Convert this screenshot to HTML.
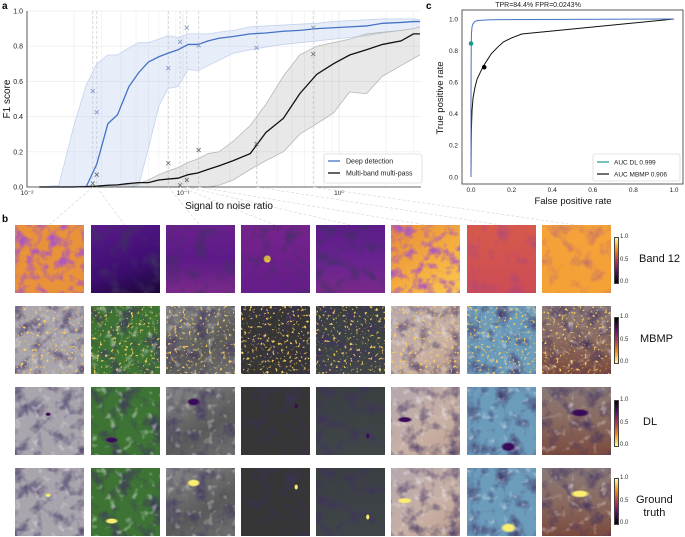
<!DOCTYPE html>
<html><head><meta charset="utf-8"><style>
body{margin:0;width:685px;height:537px;background:#fff;overflow:hidden;position:relative;font-family:"Liberation Sans","DejaVu Sans",sans-serif}
.tile{position:absolute;width:69px;height:68px;overflow:hidden}
.tile svg{position:absolute;left:0;top:0}
.lbl{position:absolute;font-size:11px;color:#111}
.cb{position:absolute;width:3px;border:0.5px solid #444}
.cbt{position:absolute;font-size:6px;color:#333}
</style></head><body>
<svg width="0" height="0" style="position:absolute"><defs id="defs"></defs></svg>
<svg id="chart" width="685" height="537" style="position:absolute;left:0;top:0"></svg>
<div id="tiles"></div>
<script>
// ---- Panel a data ----
const snrGrid=[0.012,0.016,0.02,0.024,0.028,0.033,0.038,0.045,0.052,0.06,0.07,0.08,0.093,0.108,0.125,0.145,0.17,0.21,0.27,0.34,0.44,0.56,0.72,0.92,1.17,1.5,1.9,2.5,3.0,3.3];
const dlMean=[0,0,0,0.003,0.13,0.36,0.41,0.57,0.65,0.71,0.74,0.76,0.78,0.81,0.81,0.83,0.845,0.855,0.87,0.875,0.885,0.89,0.9,0.905,0.91,0.915,0.93,0.935,0.94,0.94];
const dlUpper=[0,0.01,0.35,0.58,0.7,0.75,0.75,0.79,0.82,0.82,0.84,0.86,0.85,0.87,0.87,0.87,0.88,0.89,0.91,0.915,0.92,0.925,0.93,0.94,0.945,0.95,0.955,0.955,0.955,0.95];
const dlLower=[0,0,0,0,0,0,0,0,0.01,0.22,0.46,0.56,0.57,0.67,0.66,0.69,0.72,0.76,0.78,0.795,0.81,0.82,0.83,0.84,0.85,0.86,0.875,0.89,0.9,0.91];
const mbMean=[0,0,0,0.002,0.005,0.01,0.012,0.02,0.025,0.025,0.04,0.045,0.05,0.07,0.08,0.1,0.12,0.15,0.19,0.31,0.39,0.53,0.64,0.7,0.75,0.78,0.81,0.83,0.87,0.87];
const mbUpper=[0.002,0.003,0.004,0.005,0.005,0.01,0.01,0.015,0.02,0.04,0.07,0.09,0.11,0.14,0.16,0.19,0.2,0.26,0.35,0.47,0.63,0.75,0.8,0.82,0.84,0.87,0.88,0.89,0.9,0.91];
const mbLower=[0,0,0,0,0,0,0,0,0,0,0,0,0,0,0,0,0.01,0.04,0.1,0.15,0.2,0.3,0.36,0.42,0.54,0.53,0.63,0.69,0.73,0.75];
const markSnr=[0.0264,0.028,0.0805,0.0957,0.1057,0.126,0.296,0.684];
const markDL=[0.545,0.425,0.675,0.825,0.905,0.805,0.79,0.905];
const markMB=[0.02,0.07,0.135,0.01,0.04,0.21,0.245,0.755];
const yTicksA=[0,0.2,0.4,0.6,0.8,1.0];
const xTicksA=[0.01,0.1,1];
const xTickLabelsA=["10\u207B\u00B2","10\u207B\u00B9","10\u2070"];
// ---- Panel c data ----
const dlFpr=[0,0,0.001,0.002,0.005,0.01,0.02,0.03,0.06,0.1,0.3,1];
const dlTpr=[0,0.5,0.8,0.9,0.95,0.97,0.985,0.99,0.993,0.995,0.997,1];
const mbFpr=[0,0.001,0.002,0.005,0.01,0.02,0.03,0.045,0.06,0.08,0.1,0.13,0.16,0.2,0.25,1];
const mbTpr=[0,0.2,0.3,0.42,0.5,0.57,0.62,0.66,0.7,0.74,0.78,0.82,0.855,0.88,0.905,1];
const opDL=[0.0002,0.845];
const opMB=[0.065,0.695];
const ticksC=[0,0.2,0.4,0.6,0.8,1.0];

const NS="http://www.w3.org/2000/svg";
const svg=document.getElementById('chart');
function mk(t,a,p){const e=document.createElementNS(NS,t);for(const k in a)e.setAttribute(k,a[k]);(p||svg).appendChild(e);return e;}
const ax=v=>27+156*(Math.log10(v)+2);
const ay=v=>187-176*v;
const cx=v=>471+203*v;
const cy=v=>177-158*v;
const ga=mk('g',{});


for(let d=-2;d<=0;d++)for(let m=1;m<10;m++){const v=m*Math.pow(10,d);const x=ax(v);if(x<27||x>421)continue;
 const l=mk('line',{x1:x,x2:x,y1:11,y2:187,stroke:m==1?'#e3e3e3':'#efefef','stroke-width':0.7},ga);
 }
yTicksA.forEach(v=>{const l=mk('line',{x1:27,x2:421,y1:ay(v),y2:ay(v),stroke:'#ebebeb','stroke-width':0.7},ga);
 
 const t=mk('text',{x:23,y:ay(v)+2.5,'font-size':7,'text-anchor':'end',fill:'#222'},ga);t.textContent=v.toFixed(1);
 });
xTicksA.forEach((v,i)=>{const t=mk('text',{x:ax(v),y:195,'font-size':6.5,'text-anchor':'middle',fill:'#222'},ga);t.textContent=xTickLabelsA[i];
 });
const tileX=i=>15.3+75.2*i+34;
markSnr.forEach((s,i)=>{const x=ax(s);
 const l=mk('line',{x1:x,x2:x,y1:11,y2:187,stroke:'#cfcfcf','stroke-width':0.8,'stroke-dasharray':'3,2'},ga);
 
 const c=mk('line',{x1:x,x2:tileX(i),y1:187,y2:225,stroke:'#d8d8d8','stroke-width':0.7,'stroke-dasharray':'3,2'},svg);
 });
function band(up,lo,fill,stroke,name){let d='M'+snrGrid.map((s,i)=>ax(s)+','+ay(up[i])).join('L');
 for(let i=snrGrid.length-1;i>=0;i--)d+='L'+ax(snrGrid[i])+','+ay(lo[i]);d+='Z';
 const p=mk('path',{d:d,fill:fill,stroke:'none'},ga);
 const l1=mk('path',{d:'M'+snrGrid.map((s,i)=>ax(s)+','+ay(up[i])).join('L'),fill:'none',stroke:stroke,'stroke-width':0.8},ga);
 
 const l2=mk('path',{d:'M'+snrGrid.map((s,i)=>ax(s)+','+ay(lo[i])).join('L'),fill:'none',stroke:stroke,'stroke-width':0.8},ga);
 }
band(dlUpper,dlLower,'rgba(180,200,235,0.3)','#c3d2ec','dl-band');
band(mbUpper,mbLower,'rgba(150,150,150,0.22)','#b8b8b8','mbmp-band');
function line(ys,col,name){const p=mk('path',{d:'M'+snrGrid.map((s,i)=>ax(s)+','+ay(ys[i])).join('L'),fill:'none',stroke:col,'stroke-width':1.3},ga);
 }
line(dlMean,'#4472c4','dl-mean-line');line(mbMean,'#111','mbmp-mean-line');
function cross(x,y,col,name){const g=mk('path',{d:`M${x-2},${y-2}L${x+2},${y+2}M${x-2},${y+2}L${x+2},${y-2}`,stroke:col,'stroke-width':0.8},ga);
 }
markSnr.forEach((s,i)=>{cross(ax(s),ay(markDL[i]),'#7f95c8','dl-sample-marker');cross(ax(s),ay(markMB[i]),'#666','mbmp-sample-marker');});
mk('path',{d:'M27,11V187H421',fill:'none',stroke:'#333','stroke-width':0.8},ga);
const lg=mk('g',{},ga);
mk('rect',{x:324,y:154,width:98,height:29,fill:'#fff',stroke:'#ccc','stroke-width':0.6,rx:2},lg);
mk('line',{x1:328,x2:340,y1:161,y2:161,stroke:'#4472c4','stroke-width':1.3},lg);
mk('line',{x1:328,x2:340,y1:173,y2:173,stroke:'#111','stroke-width':1.3},lg);
let t=mk('text',{x:346,y:163.5,'font-size':7,fill:'#222'},lg);t.textContent='Deep detection';
t=mk('text',{x:346,y:175.5,'font-size':7,fill:'#222'},lg);t.textContent='Multi-band multi-pass';
t=mk('text',{x:229,y:209,'font-size':10,'text-anchor':'middle',fill:'#111'});t.textContent='Signal to noise ratio';

t=mk('text',{x:0,y:0,'font-size':10,'text-anchor':'middle',fill:'#111',transform:'translate(10,99) rotate(-90)'});t.textContent='F1 score';

[['a',2,9],['b',2,222],['c',426,9]].forEach(a=>{const e=mk('text',{x:a[1],y:a[2],'font-size':10,'font-weight':'bold',fill:'#000'});e.textContent=a[0];
 });
const gc=mk('g',{});
mk('rect',{x:462,y:10,width:221,height:174,fill:'none',stroke:'#333','stroke-width':0.8},gc);
ticksC.forEach(v=>{let e=mk('text',{x:cx(v),y:192,'font-size':6.5,'text-anchor':'middle',fill:'#222'},gc);e.textContent=v.toFixed(1);
 
 e=mk('text',{x:458,y:cy(v)+2.3,'font-size':6.5,'text-anchor':'end',fill:'#222'},gc);e.textContent=v.toFixed(1);
 });
let p=mk('path',{d:'M'+mbFpr.map((f,i)=>cx(f)+','+cy(mbTpr[i])).join('L'),fill:'none',stroke:'#111','stroke-width':1},gc);

p=mk('path',{d:'M'+dlFpr.map((f,i)=>cx(f)+','+cy(dlTpr[i])).join('L'),fill:'none',stroke:'#4472c4','stroke-width':1},gc);

p=mk('circle',{cx:cx(opDL[0]),cy:cy(opDL[1]),r:2.3,fill:'#1a9a8a'},gc);
p=mk('circle',{cx:cx(opMB[0]),cy:cy(opMB[1]),r:2.3,fill:'#000'},gc);
t=mk('text',{x:538,y:7,'font-size':7,'text-anchor':'middle',fill:'#222'},gc);t.textContent='TPR=84.4% FPR=0.0243%';
t=mk('text',{x:573,y:204,'font-size':9.5,'text-anchor':'middle',fill:'#111'},gc);t.textContent='False positive rate';
t=mk('text',{x:0,y:0,'font-size':9.5,'text-anchor':'middle',fill:'#111',transform:'translate(443,98) rotate(-90)'},gc);t.textContent='True positive rate';
const lc=mk('g',{},gc);
mk('rect',{x:593,y:154,width:87,height:27,fill:'#fff',stroke:'#ccc','stroke-width':0.6,rx:2},lc);
mk('line',{x1:597,x2:609,y1:162,y2:162,stroke:'#1a9a8a','stroke-width':1.2},lc);
mk('line',{x1:597,x2:609,y1:174,y2:174,stroke:'#111','stroke-width':1.2},lc);
t=mk('text',{x:614,y:164.5,'font-size':6.5,fill:'#222'},lc);t.textContent='AUC DL 0.999';
t=mk('text',{x:614,y:176.5,'font-size':6.5,fill:'#222'},lc);t.textContent='AUC MBMP 0.906';

// ---- texture filters ----
const defs=document.getElementById('defs');
function filt(id,freq,seed,rgb,k,off,oct){
 const f=mk('filter',{id:id,x:0,y:0,width:'100%',height:'100%'},defs);
 mk('feTurbulence',{type:'fractalNoise',baseFrequency:freq,numOctaves:oct||3,seed:seed},f);
 mk('feColorMatrix',{type:'matrix',values:`0 0 0 0 ${rgb[0]} 0 0 0 0 ${rgb[1]} 0 0 0 0 ${rgb[2]} ${k} 0 0 0 ${-off}`},f);}
for(let i=0;i<8;i++){
 filt('purp'+i,0.09,i+3,[0.42,0.1,0.5],3.2,1.45);
 filt('dark'+i,0.07,i+11,[0.05,0.03,0.12],2.0,0.95);
 filt('soft'+i,0.07,i+11,[0.3,0.05,0.3],1.2,0.6);
 filt('lite'+i,0.12,i+21,[1,1,1],1.6,0.95,2);
 filt('spec'+i,0.35,i+31,[0.97,0.62,0.12],7,4.3,2);
}
const band12=[
 '#e8923a','linear-gradient(160deg,#5a1a8a,#3e0e72 60%,#1a0636)','linear-gradient(180deg,#6a208e,#5c1a88 50%,#7a2a88)',
 'radial-gradient(circle at 38% 50%,#f8d040 0 3px,transparent 4px),linear-gradient(180deg,#76238c,#651d8a)',
 'linear-gradient(180deg,#5c1c88,#6a2490 60%,#7a2a88)','linear-gradient(140deg,#e88a38,#f5b040 60%,#fac850)',
 'linear-gradient(180deg,#d85a4a,#cc4c56)','linear-gradient(180deg,#f5a23a,#f4a236)'];
const b12tex=['purp','dark','dark','dark','dark','purp','soft','soft'];
const rgbBg=['#a9a5ad','#3d7434','linear-gradient(150deg,#8a8a8a,#5a5a5a 60%,#707070)','#363636',
 'linear-gradient(180deg,#3a3f42,#404648)','linear-gradient(140deg,#b4a6ad,#c8b0a4 60%,#b89c8c)','#6b9cbc',
 'linear-gradient(180deg,#8a7a78,#8a6a60 50%,#7a4a3e)'];
const liteOn=[1,1,1,0,0,1,1,1];
const dlBlob=[[48,40,3,2],[30,78,7,3],[40,22,7,4],[80,28,2,3],[75,72,2,3],[20,48,8,3],[60,88,8,5],[55,38,10,4]];
const blob=(c,s)=>`radial-gradient(ellipse ${s[2]}px ${s[3]}px at ${s[0]}% ${s[1]}%, ${c} 0 60%, transparent 100%)`;
const rows=[225,306,387,468];
const names=['band12','mbmp','dl','ground-truth'];
const cont=document.getElementById('tiles');
for(let r=0;r<4;r++)for(let i=0;i<8;i++){
 const d=document.createElement('div');d.className='tile';
 d.style.left=(15.3+75.2*i)+'px';d.style.top=rows[r]+'px';
 let bg, layers;
 if(r==0){bg=band12[i];layers=[b12tex[i]+i];}
 else{bg=rgbBg[i];layers=['dark'+i];if(liteOn[i])layers.push('lite'+i);if(r==1)layers.push('spec'+i);}
 d.style.background=bg;
 let h='<svg width="69" height="68">'+layers.map(l=>`<rect width="69" height="68" filter="url(#${l})"/>`).join('')+'</svg>';
 if(r>=2){const s=dlBlob[i];h+=`<div style="position:absolute;inset:0;background:${blob(r==2?'#3a0a5a':'#fbee70',s)}"></div>`;}
 d.innerHTML=h;
 
 
 cont.appendChild(d);}
const inf='#000004,#56106e,#bb3754,#f98e09,#fcffa4';
const cbs=[[237,'0deg'],[317,'180deg'],[400,'180deg'],[478,'0deg']];
cbs.forEach((c,r)=>{const b=document.createElement('div');b.className='cb';b.style.left='614px';b.style.top=c[0]+'px';b.style.height='45px';b.style.background=`linear-gradient(${c[1]},${inf})`;
 
 
 cont.appendChild(b);
 ['1.0','0.5','0.0'].forEach((s,k)=>{const tt=document.createElement('div');tt.className='cbt';tt.textContent=s;tt.style.left='620px';tt.style.top=(c[0]-3+k*22.5)+'px';
  
  
  cont.appendChild(tt);});});
[['Band 12',639,253],['MBMP',640,333],['DL',643,416]].forEach(l=>{const e=document.createElement('div');e.className='lbl';e.textContent=l[0];e.style.left=l[1]+'px';e.style.top=l[2]+'px';
 
 
 cont.appendChild(e);});
const gt=document.createElement('div');gt.className='lbl';gt.style.left='636px';gt.style.top='494px';gt.style.textAlign='center';gt.style.lineHeight='13px';gt.innerHTML='Ground<br>truth';


cont.appendChild(gt);
</script>
</body></html>
